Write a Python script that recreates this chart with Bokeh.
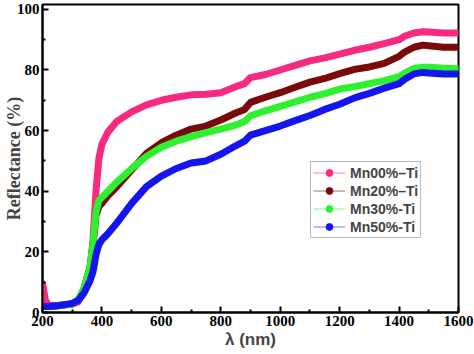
from bokeh.plotting import figure
from bokeh.models import Legend, LegendItem, Range1d, ColumnDataSource, FixedTicker
from bokeh.embed import file_html
from bokeh.resources import INLINE

wavelength = [200, 210, 220, 250, 300, 320, 340, 360, 370, 380, 390, 400, 420, 450, 500, 550,
              600, 650, 700, 750, 800, 850, 880, 900, 950, 1000, 1050, 1100, 1150, 1200, 1250,
              1300, 1350, 1400, 1420, 1450, 1480, 1500, 1550, 1600]

mn00 = [9.5, 4, 2.5, 2.3, 2.8, 3.5, 7, 14, 24, 40, 51, 55.5, 59.5, 63, 66.2, 68.5,
        70, 71, 71.8, 72, 72.5, 74.5, 75.5, 77.5, 78.5, 80, 81.5, 83, 84, 85.2, 86.5,
        87.5, 88.7, 90, 91.2, 92.2, 92.6, 92.5, 92.2, 92.2]
mn20 = [2, 2, 2, 2.2, 2.8, 4, 8, 15, 22, 32, 35, 36, 38.5, 41.5, 47, 52.5,
        56, 58.5, 60.5, 61.5, 63.5, 65.8, 67, 69.3, 71, 72.5, 74.3, 76, 77.2, 78.8, 80.2,
        81, 82.2, 84.5, 86, 87.5, 88.2, 88, 87.5, 87.5]
mn30 = [2, 2, 2, 2.2, 2.8, 4, 8, 15, 23, 33, 37, 38, 40, 43, 47.5, 51.5,
        54.5, 56.5, 58, 59.3, 60.5, 61.8, 63, 64.9, 66.5, 68, 69.5, 71, 72.2, 73.7, 74.5,
        75.5, 76.5, 77.8, 79, 80.5, 80.9, 80.9, 80.6, 80.4]
mn50 = [2, 2, 2, 2.2, 3, 4, 6.5, 10.5, 13.5, 19, 22.5, 24, 26, 29.5, 36, 41.5,
        45, 47.5, 49.3, 50, 52.2, 55, 56.5, 58.5, 60, 61.5, 63.3, 65, 67, 68.7, 70.8,
        72.3, 74, 75.5, 77, 78.7, 79.2, 79, 78.7, 78.7]

names = ["Mn00%\u2013Ti", "Mn20%\u2013Ti", "Mn30%-Ti", "Mn50%-Ti"]
colors = ["#F52A80", "#7A0A0A", "#2EF02E", "#1414F0"]
series = [mn00, mn20, mn30, mn50]

x_ticks = [200, 400, 600, 800, 1000, 1200, 1400, 1600]
y_ticks = [0, 20, 40, 60, 80, 100]

p = figure(width=474, height=354, output_backend="svg", toolbar_location=None,
           x_range=Range1d(200, 1600), y_range=Range1d(0, 101.6),
           min_border_left=0, min_border_right=16, min_border_top=4, min_border_bottom=42)

p.xgrid.visible = False
p.ygrid.visible = False
p.outline_line_color = "black"
p.outline_line_width = 2

for ys, c in zip(series, colors):
    p.line(wavelength, ys, line_color=c, line_width=7, line_join="round", line_cap="round")

items = []
for name, c in zip(names, colors):
    src = ColumnDataSource(dict(x=[float("nan")], y=[float("nan")]))
    lr = p.line("x", "y", source=src, line_color=c, line_width=1, line_alpha=0.6)
    sr = p.scatter("x", "y", source=src, marker="circle", size=8, fill_color=c,
                   line_color=c, line_width=1)
    items.append(LegendItem(label=name, renderers=[lr, sr]))

legend = Legend(items=items, location=(268, 74))
legend.label_text_font = "Liberation Sans"
legend.label_text_font_style = "bold"
legend.label_text_font_size = "14px"
legend.label_height = 17
legend.glyph_height = 17
legend.glyph_width = 32
legend.label_standoff = 5
legend.spacing = 1
legend.padding = 2
legend.margin = 0
legend.border_line_color = "#777777"
legend.border_line_width = 1
legend.background_fill_alpha = 1
p.add_layout(legend, "center")

for ax in (p.xaxis[0], p.yaxis[0]):
    ax.major_label_text_font = "Liberation Serif"
    ax.major_label_text_font_style = "bold"
    ax.major_label_text_font_size = "15px"
    ax.major_label_text_color = "black"
    ax.major_tick_out = 0
    ax.major_tick_in = 6
    ax.minor_tick_out = 0
    ax.minor_tick_in = 3
    ax.major_tick_line_width = 2
    ax.minor_tick_line_width = 2
    ax.axis_line_width = 2
    ax.major_label_standoff = 3

p.xaxis[0].ticker = FixedTicker(ticks=x_ticks, minor_ticks=list(range(300, 1600, 200)))
p.yaxis[0].ticker = FixedTicker(ticks=y_ticks, minor_ticks=list(range(10, 100, 20)))

p.xaxis.axis_label = "\u03bb (nm)"
p.xaxis.axis_label_text_font = "Liberation Sans"
p.xaxis.axis_label_text_font_style = "bold"
p.xaxis.axis_label_text_font_size = "17px"
p.xaxis.axis_label_standoff = 1

p.yaxis.axis_label = "Reflectance (%)"
p.yaxis.axis_label_text_font = "Liberation Serif"
p.yaxis.axis_label_text_font_style = "bold"
p.yaxis.axis_label_text_font_size = "18px"
p.yaxis.axis_label_standoff = -10

open("out.html", "w").write(file_html(p, INLINE))
